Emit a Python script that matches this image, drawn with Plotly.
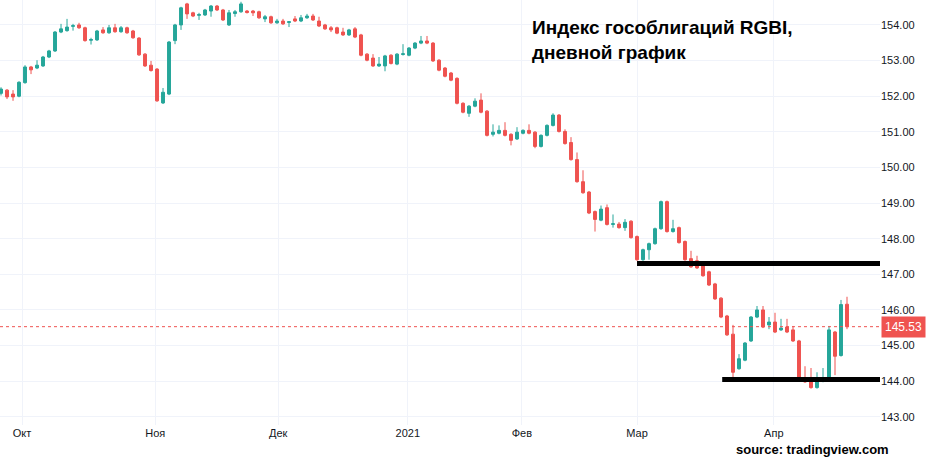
import plotly.graph_objects as go

# OHLC values, one per trading day (Oct 2020 - Apr 2021)
opens = [152.08, 152.17, 152.06, 152.00, 152.38, 152.82, 152.79, 152.85, 153.10, 153.27,
         153.80, 153.84, 153.96, 154.00, 153.92, 153.57, 153.58, 153.86, 153.78, 153.92,
         153.81, 153.92, 153.83, 153.63, 153.18, 152.87, 152.76, 151.81, 152.06, 153.56,
         154.00, 154.59, 154.34, 154.27, 154.28, 154.39, 154.53, 154.42, 154.00, 154.32,
         154.37, 154.39, 154.39, 154.37, 154.17, 154.23, 154.06, 154.11, 154.07, 154.17,
         154.11, 154.20, 154.25, 154.11, 154.00, 153.92, 153.92, 153.80, 153.72, 153.89,
         153.72, 153.18, 153.07, 152.85, 152.85, 153.15, 152.90, 153.17, 153.15, 153.35,
         153.49, 153.55, 153.49, 153.01, 152.79, 152.65, 152.50, 151.80, 151.52, 151.72,
         151.89, 151.58, 150.93, 150.96, 151.04, 150.93, 150.80, 150.96, 151.04, 150.99,
         150.59, 150.90, 151.18, 151.47, 151.01, 150.70, 150.22, 149.60, 149.31, 148.76,
         148.52, 148.87, 148.40, 148.41, 148.31, 148.49, 148.06, 147.41, 147.69, 147.86,
         148.28, 149.04, 148.20, 148.31, 147.92, 147.44, 147.38, 147.27, 147.07, 146.73,
         146.33, 145.83, 145.32, 144.35, 144.59, 145.13, 145.80, 146.00, 145.58, 145.66,
         145.44, 145.52, 145.44, 145.13, 144.05, 144.10, 143.82, 144.00, 144.10, 145.38,
         144.72, 146.16]
highs = [152.25, 152.20, 152.17, 152.42, 152.87, 152.85, 153.01, 153.13, 153.30, 153.83,
         154.03, 154.17, 154.03, 154.06, 153.95, 153.64, 153.86, 153.94, 154.00, 154.03,
         153.97, 153.95, 153.86, 153.66, 153.21, 152.99, 152.79, 152.23, 153.55, 154.03,
         154.51, 154.62, 154.37, 154.34, 154.45, 154.56, 154.56, 154.45, 154.42, 154.42,
         154.65, 154.42, 154.42, 154.40, 154.28, 154.26, 154.17, 154.17, 154.10, 154.25,
         154.28, 154.31, 154.31, 154.23, 154.03, 153.97, 153.95, 153.92, 153.89, 153.94,
         153.75, 153.21, 153.18, 153.10, 153.16, 153.18, 153.21, 153.46, 153.38, 153.52,
         153.69, 153.69, 153.52, 153.04, 152.82, 152.68, 152.53, 151.83, 151.75, 151.94,
         152.08, 151.61, 151.21, 151.18, 151.27, 150.96, 151.13, 151.07, 151.21, 151.02,
         150.93, 151.21, 151.52, 151.50, 151.07, 150.85, 150.42, 149.92, 149.34, 148.79,
         148.93, 148.96, 148.68, 148.47, 148.55, 148.52, 148.09, 147.72, 147.89, 148.31,
         149.07, 149.07, 148.53, 148.34, 147.95, 147.66, 147.52, 147.30, 147.10, 146.76,
         146.36, 145.86, 145.58, 144.76, 145.10, 145.83, 146.11, 146.11, 145.80, 145.92,
         145.75, 145.75, 145.55, 145.16, 144.42, 144.37, 144.25, 144.37, 145.55, 145.41,
         146.28, 146.37]
lows = [152.02, 151.92, 151.87, 151.97, 152.35, 152.62, 152.76, 152.82, 153.07, 153.24,
        153.77, 153.81, 153.84, 153.89, 153.53, 153.45, 153.55, 153.75, 153.75, 153.78,
        153.78, 153.75, 153.61, 153.13, 152.82, 152.69, 151.84, 151.78, 152.03, 153.46,
        153.86, 154.17, 154.22, 154.14, 154.25, 154.23, 154.39, 154.11, 153.97, 154.23,
        154.34, 154.32, 154.25, 154.17, 154.08, 154.03, 154.03, 154.00, 153.94, 154.08,
        154.08, 154.17, 154.11, 153.94, 153.86, 153.80, 153.74, 153.69, 153.69, 153.63,
        153.12, 152.98, 152.82, 152.82, 152.70, 152.89, 152.87, 153.14, 153.12, 153.32,
        153.46, 153.46, 152.96, 152.70, 152.53, 152.42, 151.77, 151.52, 151.42, 151.69,
        151.52, 150.87, 150.87, 150.93, 150.87, 150.62, 150.77, 150.93, 150.93, 150.54,
        150.56, 150.87, 151.15, 150.98, 150.64, 150.19, 149.57, 149.26, 148.69, 148.20,
        148.49, 148.37, 148.31, 148.28, 148.22, 148.00, 147.38, 147.38, 147.41, 147.83,
        148.25, 148.17, 148.17, 147.86, 147.38, 147.18, 147.15, 146.93, 146.67, 146.28,
        145.77, 145.27, 144.11, 144.32, 144.56, 145.10, 145.77, 145.49, 145.46, 145.35,
        145.41, 145.35, 145.10, 144.07, 143.95, 143.79, 143.79, 143.97, 144.07, 144.17,
        144.69, 145.46]
closes = [152.20, 151.98, 151.98, 152.39, 152.82, 152.74, 152.87, 153.10, 153.27, 153.80,
          153.89, 153.94, 153.98, 153.92, 153.56, 153.59, 153.83, 153.78, 153.92, 153.81,
          153.92, 153.78, 153.64, 153.16, 152.85, 152.72, 151.87, 152.11, 153.52, 154.00,
          154.48, 154.31, 154.25, 154.29, 154.42, 154.53, 154.42, 154.14, 154.34, 154.37,
          154.59, 154.35, 154.34, 154.20, 154.23, 154.06, 154.11, 154.03, 154.09, 154.11,
          154.20, 154.25, 154.14, 153.97, 153.89, 153.86, 153.77, 153.72, 153.86, 153.66,
          153.15, 153.01, 152.85, 152.90, 153.13, 152.92, 153.18, 153.19, 153.35, 153.49,
          153.55, 153.49, 152.99, 152.73, 152.56, 152.45, 151.80, 151.55, 151.72, 151.86,
          151.55, 150.90, 150.99, 151.04, 150.90, 150.76, 150.99, 151.04, 150.96, 150.59,
          150.90, 151.18, 151.47, 151.01, 150.67, 150.22, 149.60, 149.29, 148.72, 148.54,
          148.83, 148.40, 148.42, 148.31, 148.46, 148.03, 147.41, 147.69, 147.86, 148.28,
          149.04, 148.20, 148.28, 147.89, 147.41, 147.21, 147.18, 146.96, 146.70, 146.31,
          145.80, 145.30, 144.25, 144.63, 145.07, 145.80, 146.00, 145.52, 145.66, 145.38,
          145.49, 145.38, 145.13, 144.10, 143.98, 143.82, 144.00, 144.08, 145.44, 144.70,
          146.15, 145.53]
days = list(range(len(closes)))

# month labels and the trading-day index where each month starts
month_labels = ["Окт", "Ноя", "Дек", "2021", "Фев", "Мар", "Апр"]
month_pos = [3.5, 25.7, 46.2, 67.8, 86.8, 106, 128.8]

# support / resistance levels drawn on the chart: (level, start index)
resistance = (147.30, 106)
support = (144.05, 120.2)
last_price = closes[-1]

fig = go.Figure(go.Candlestick(
    x=days, open=opens, high=highs, low=lows, close=closes,
    increasing=dict(line=dict(color="#26a69a", width=1), fillcolor="#26a69a"),
    decreasing=dict(line=dict(color="#ef5350", width=1), fillcolor="#ef5350"),
    whiskerwidth=0, showlegend=False,
))

for level, start in [resistance, support]:
    fig.add_shape(type="line", x0=start, x1=146.8, y0=level, y1=level,
                  xref="x", yref="y", line=dict(color="black", width=5))

fig.add_hline(y=last_price, line=dict(color="#ef5350", width=1, dash="dot"))
fig.add_annotation(x=1, xref="paper", y=last_price, yref="y", xanchor="left",
                   xshift=1, text=f"{last_price:.2f}", showarrow=False,
                   bgcolor="#ef5350", font=dict(color="white", size=12),
                   borderpad=3)

fig.add_annotation(x=0.602, xref="paper", y=0.965, yref="paper", xanchor="left",
                   yanchor="top", align="left", showarrow=False,
                   text="<b>Индекс гособлигаций RGBI,<br>дневной график</b>",
                   font=dict(family="Liberation Sans, Arial", size=19, color="black"))
fig.add_annotation(x=1.012, xref="paper", y=-0.035, yref="paper", xanchor="right",
                   yanchor="top", showarrow=False, text="<b>source: tradingview.com</b>",
                   font=dict(family="Liberation Sans, Arial", size=13, color="black"))

fig.update_layout(
    width=934, height=464,
    margin=dict(l=0, r=54, t=0, b=39),
    plot_bgcolor="white", paper_bgcolor="white",
    font=dict(family="Liberation Sans, Arial", size=11, color="#131722"),
    xaxis=dict(range=[-0.17, 146.5], tickvals=month_pos, ticktext=month_labels,
               showgrid=True, gridcolor="#f0f3fa", zeroline=False,
               rangeslider_visible=False, ticks="", showline=False),
    yaxis=dict(side="right", range=[142.77, 154.7], dtick=1, tickformat=".2f",
               showgrid=True, gridcolor="#f0f3fa", zeroline=False, ticks=""),
)

# drop the default page margin so the figure fills the window exactly
fig.write_html("out.html", config={"displayModeBar": False},
               post_script="document.body.style.margin='0';")
